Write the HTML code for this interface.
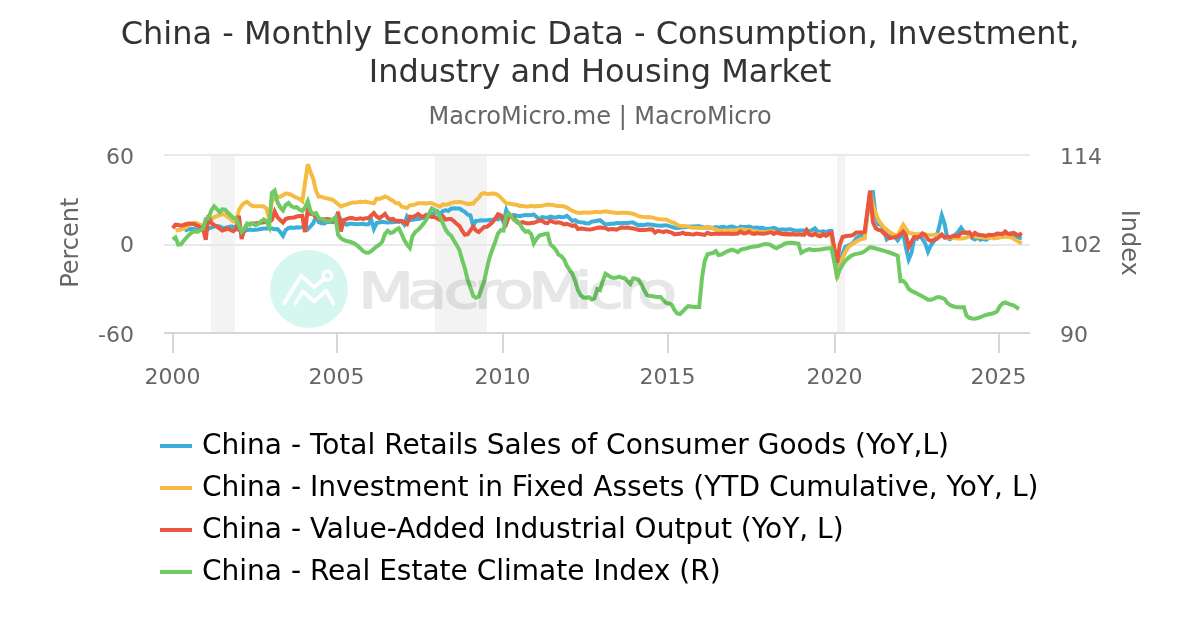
<!DOCTYPE html>
<html lang="en"><head><meta charset="utf-8"><title>China - Monthly Economic Data - Consumption, Investment, Industry and Housing Market</title>
<style>
html,body{margin:0;padding:0;background:#fff;}
body{width:1200px;height:630px;overflow:hidden;}
svg{display:block;font-family:"DejaVu Sans","Liberation Sans",sans-serif;}
</style></head><body>
<svg width="1200" height="630" viewBox="0 0 1200 630">
<rect x="0" y="0" width="1200" height="630" fill="#ffffff"/>

<g fill="#f3f3f3">
<rect x="211" y="155" width="24" height="178"/>
<rect x="435" y="155" width="52" height="178"/>
<rect x="837" y="155" width="8" height="178"/>
</g>
<g stroke="#e7eae9" stroke-width="2" fill="none">
<path d="M164 155 L1030 155"/>
<path d="M164 245 L1030 245"/>
</g>
<g stroke="#d6d6d6" stroke-width="2" fill="none">
<path d="M164 333 L1030 333"/>
<path d="M173 333 L173 353"/>
<path d="M337 333 L337 353"/>
<path d="M503 333 L503 353"/>
<path d="M668 333 L668 353"/>
<path d="M835 333 L835 353"/>
<path d="M999 333 L999 353"/>
</g>
<clipPath id="clip"><rect x="164" y="145" width="866" height="198"/></clipPath>
<g clip-path="url(#clip)" fill="none" stroke-width="4" stroke-linejoin="miter" stroke-miterlimit="4" stroke-linecap="butt">
<path d="M183.7 224.0 L186.5 230.0 L189.2 229.2 L192.0 228.8 L194.8 229.2 L197.5 229.8 L200.3 230.0 L203.0 229.5 L205.8 229.0 L208.5 228.7 L211.3 227.5 L214.1 226.5 L216.8 226.0 L219.6 226.5 L222.3 227.8 L225.1 228.0 L227.8 227.2 L230.6 226.5 L233.3 226.8 L236.1 228.5 L238.9 230.0 L241.6 231.8 L244.4 231.2 L247.1 230.0 L249.9 229.5 L252.6 230.0 L255.4 229.8 L258.2 229.5 L260.9 229.0 L263.7 228.5 L266.4 228.5 L269.2 228.5 L271.9 228.5 L274.7 229.2 L277.4 229.0 L280.2 232.0 L283.0 235.8 L285.7 230.0 L288.5 228.0 L291.2 227.6 L294.0 228.0 L296.8 227.3 L299.5 227.5 L302.3 227.2 L305.0 224.8 L307.8 229.0 L310.5 226.3 L313.3 223.2 L316.1 216.4 L318.8 222.2 L321.6 223.2 L324.3 223.4 L327.1 222.0 L329.8 221.7 L332.6 222.2 L335.4 221.3 L338.1 225.7 L340.9 219.4 L343.6 222.2 L346.4 224.7 L349.1 223.8 L351.9 223.7 L354.6 224.0 L357.4 224.3 L360.2 224.0 L362.9 223.8 L365.7 224.4 L368.4 224.3 L371.2 219.8 L373.9 228.9 L376.7 222.8 L379.4 222.6 L382.2 221.7 L385.0 222.2 L387.7 222.5 L390.5 222.3 L393.2 222.2 L396.0 221.6 L398.8 221.9 L401.5 221.1 L404.3 224.4 L407.0 216.4 L409.8 220.1 L412.5 219.8 L415.3 219.2 L418.1 219.1 L420.8 218.5 L423.6 217.4 L426.3 217.6 L429.1 215.9 L431.8 214.9 L434.6 212.8 L437.3 211.3 L440.1 214.5 L442.9 210.9 L445.6 210.2 L448.4 210.8 L451.1 208.7 L453.9 208.2 L456.6 208.4 L459.4 208.4 L462.1 210.2 L464.9 211.9 L467.7 214.6 L470.4 215.4 L473.2 225.6 L475.9 221.0 L478.7 220.8 L481.4 220.2 L484.2 220.6 L487.0 220.2 L489.7 220.0 L492.5 219.8 L495.2 218.8 L498.0 219.4 L500.8 216.8 L503.5 222.0 L506.3 210.0 L509.0 216.1 L511.8 215.4 L514.5 215.1 L517.3 215.7 L520.0 216.2 L522.8 215.5 L525.6 214.9 L528.3 215.2 L531.1 215.1 L533.8 214.5 L539.3 219.4 L542.1 217.0 L544.9 217.4 L547.6 217.7 L550.4 216.6 L553.1 217.3 L555.9 217.6 L558.6 216.6 L561.4 217.3 L564.1 217.1 L566.9 215.9 L572.4 221.0 L575.2 220.2 L577.9 221.9 L580.7 222.3 L583.5 222.5 L586.2 223.4 L589.0 223.2 L591.7 221.7 L594.5 221.3 L597.2 220.7 L600.0 220.2 L605.5 224.6 L608.3 224.1 L611.0 223.8 L613.8 223.7 L616.5 223.1 L619.3 223.2 L622.0 222.9 L624.8 223.1 L627.6 223.1 L630.3 222.5 L633.1 222.6 L638.6 225.3 L641.3 224.7 L644.1 225.2 L646.9 224.3 L649.6 224.4 L652.4 224.7 L655.1 225.2 L657.9 225.6 L660.6 225.7 L663.4 225.4 L666.1 225.2 L671.7 226.9 L674.4 227.7 L677.2 228.0 L679.9 227.8 L682.7 227.1 L685.5 227.2 L688.2 226.8 L691.0 226.6 L693.7 226.5 L696.5 226.2 L699.2 226.3 L704.7 227.7 L707.5 227.2 L710.3 227.8 L713.0 228.0 L715.8 227.1 L718.5 227.7 L721.3 227.1 L724.0 226.9 L726.8 228.0 L729.5 226.8 L732.3 226.6 L737.8 228.7 L740.6 226.6 L743.3 226.9 L746.1 226.9 L748.9 226.5 L751.6 227.4 L754.4 227.8 L757.1 227.5 L759.9 228.0 L762.6 227.7 L765.4 228.9 L770.9 228.4 L773.7 227.8 L776.4 228.9 L779.2 230.2 L781.9 229.4 L784.7 229.8 L787.4 229.4 L790.2 229.2 L793.0 230.0 L795.7 230.8 L798.5 230.6 L804.0 230.6 L806.7 229.9 L809.5 232.1 L812.2 230.0 L815.0 228.3 L817.8 231.5 L820.5 231.7 L823.3 231.2 L826.0 232.1 L828.8 230.9 L831.5 230.9 L837.1 273.2 L839.8 266.2 L842.6 253.9 L845.3 246.9 L848.1 245.5 L850.9 244.4 L853.6 242.1 L856.4 237.9 L859.1 236.4 L861.9 235.4 L864.6 236.0 L870.1 192.7 L872.9 192.1 L875.7 216.6 L878.4 224.4 L881.2 224.8 L883.9 230.2 L886.7 239.1 L889.4 236.3 L892.2 235.5 L895.0 237.0 L897.7 240.3 L903.2 232.9 L906.0 248.0 L908.7 259.3 L911.5 252.7 L914.2 238.2 L917.0 238.8 L919.8 234.8 L922.5 239.1 L925.3 243.5 L928.0 251.6 L930.8 245.5 L936.3 237.6 L939.1 227.1 L941.8 215.5 L944.6 224.0 L947.3 238.2 L950.1 239.1 L952.9 236.0 L955.6 234.6 L958.4 231.5 L961.1 227.8 L963.9 231.8 L969.4 234.6 L972.1 238.2 L974.9 239.4 L977.7 237.3 L980.4 239.8 L983.2 238.8 L985.9 239.7 L988.7 238.1 L991.4 235.7 L994.2 238.3 L997.0 237.3 L1002.5 236.9 L1005.2 234.1 L1008.0 235.2 L1010.7 233.3 L1013.5 235.7 L1016.2 237.3 L1019.0 237.8 L1021.8 238.3" stroke="#3bafda"/>
<path d="M175.5 230.5 L178.2 230.0 L181.0 229.5 L183.7 228.5 L186.5 227.0 L189.2 225.0 L192.0 223.5 L194.8 222.8 L197.5 223.5 L200.3 225.0 L203.0 225.5 L205.8 224.0 L208.5 222.0 L211.3 219.0 L214.1 217.2 L216.8 216.2 L219.6 215.0 L222.3 214.0 L225.1 214.8 L227.8 216.8 L230.6 219.0 L233.3 221.5 L236.1 221.2 L238.9 210.0 L241.6 205.5 L244.4 203.0 L247.1 201.8 L249.9 204.5 L252.6 206.0 L255.4 206.2 L258.2 206.3 L260.9 206.2 L263.7 206.5 L266.4 208.5 L269.2 219.0 L271.9 200.7 L277.4 196.5 L280.2 196.8 L283.0 195.2 L285.7 193.5 L288.5 193.8 L291.2 194.8 L294.0 196.5 L296.8 197.8 L299.5 199.0 L302.3 201.2 L307.8 164.2 L310.5 171.9 L313.3 179.3 L316.1 191.2 L318.8 196.8 L321.6 196.7 L324.3 197.9 L327.1 198.4 L329.8 199.0 L332.6 199.9 L335.4 201.9 L340.9 206.5 L343.6 205.3 L346.4 204.7 L349.1 203.6 L351.9 202.6 L354.6 202.4 L357.4 202.2 L360.2 201.7 L362.9 201.9 L365.7 201.6 L368.4 202.4 L373.9 203.3 L376.7 198.6 L379.4 198.9 L382.2 197.9 L385.0 196.4 L387.7 197.6 L390.5 199.6 L393.2 201.0 L396.0 203.1 L398.8 203.3 L401.5 206.5 L407.0 208.1 L409.8 205.3 L412.5 205.0 L415.3 204.4 L418.1 203.2 L420.8 203.3 L423.6 203.2 L426.3 203.6 L429.1 202.9 L431.8 203.1 L434.6 204.5 L440.1 206.8 L442.9 204.4 L445.6 204.7 L448.4 204.2 L451.1 203.1 L453.9 202.3 L456.6 202.2 L459.4 201.9 L462.1 202.4 L464.9 203.1 L467.7 204.1 L473.2 203.5 L475.9 200.4 L478.7 197.6 L481.4 194.0 L484.2 193.0 L487.0 194.0 L489.7 193.8 L492.5 193.4 L495.2 193.7 L498.0 195.2 L500.8 197.6 L506.3 203.3 L509.0 203.6 L511.8 204.1 L514.5 204.4 L517.3 205.0 L520.0 205.9 L522.8 206.0 L525.6 206.5 L528.3 206.6 L531.1 205.9 L533.8 206.5 L539.3 205.9 L542.1 205.7 L544.9 205.1 L547.6 204.5 L550.4 204.8 L553.1 205.1 L555.9 205.7 L558.6 205.9 L561.4 205.9 L564.1 206.5 L566.9 207.5 L572.4 210.9 L575.2 211.8 L577.9 212.8 L580.7 213.0 L583.5 212.5 L586.2 212.5 L589.0 212.8 L591.7 212.4 L594.5 212.1 L597.2 212.1 L600.0 212.2 L605.5 211.3 L608.3 211.8 L611.0 212.2 L613.8 212.5 L616.5 213.0 L619.3 213.0 L622.0 212.7 L624.8 212.8 L627.6 213.0 L630.3 213.3 L633.1 213.7 L638.6 216.2 L641.3 216.7 L644.1 217.1 L646.9 217.3 L649.6 217.1 L652.4 217.6 L655.1 218.3 L657.9 218.9 L660.6 219.2 L663.4 219.4 L666.1 219.5 L671.7 222.2 L674.4 222.8 L677.2 225.0 L679.9 225.9 L682.7 225.9 L685.5 226.2 L688.2 226.6 L691.0 227.5 L693.7 227.7 L696.5 227.7 L699.2 228.0 L704.7 227.7 L707.5 226.9 L710.3 227.2 L713.0 228.6 L715.8 229.4 L718.5 230.8 L721.3 230.8 L724.0 230.6 L726.8 230.5 L729.5 230.5 L732.3 230.8 L737.8 229.6 L740.6 229.2 L743.3 229.6 L746.1 230.0 L748.9 230.0 L751.6 230.5 L754.4 231.2 L757.1 231.7 L759.9 232.0 L762.6 232.1 L765.4 232.1 L770.9 231.1 L773.7 231.7 L776.4 232.4 L779.2 233.8 L781.9 233.9 L784.7 234.6 L787.4 234.9 L790.2 234.8 L793.0 234.3 L795.7 234.1 L798.5 234.1 L804.0 233.8 L806.7 233.5 L809.5 233.8 L812.2 234.5 L815.0 234.2 L817.8 234.3 L820.5 234.6 L823.3 234.8 L826.0 235.1 L828.8 235.1 L831.5 234.8 L837.1 279.1 L839.8 266.7 L842.6 258.1 L845.3 252.2 L848.1 247.4 L850.9 245.2 L853.6 243.2 L856.4 241.6 L859.1 240.1 L861.9 238.9 L864.6 238.5 L870.1 190.9 L872.9 204.8 L875.7 213.3 L878.4 220.0 L881.2 224.1 L883.9 227.5 L886.7 229.6 L889.4 232.0 L892.2 233.8 L895.0 235.1 L897.7 235.5 L903.2 224.7 L906.0 229.0 L908.7 232.7 L911.5 233.6 L914.2 233.8 L917.0 234.3 L919.8 234.2 L922.5 234.1 L925.3 234.2 L928.0 234.9 L930.8 235.2 L936.3 234.6 L939.1 235.2 L941.8 235.8 L944.6 236.9 L947.3 237.2 L950.1 237.8 L952.9 238.1 L955.6 238.2 L958.4 238.5 L961.1 238.5 L963.9 238.3 L969.4 236.6 L972.1 236.1 L974.9 236.6 L977.7 236.9 L980.4 237.0 L983.2 237.5 L985.9 237.8 L988.7 237.8 L991.4 237.8 L994.2 237.9 L997.0 238.1 L1002.5 236.7 L1005.2 236.6 L1008.0 236.9 L1010.7 237.3 L1013.5 238.7 L1016.2 240.4 L1019.0 242.1 L1021.8 243.5" stroke="#f6bb42"/>
<path d="M172.7 228.3 L175.5 224.7 L178.2 225.0 L181.0 225.7 L183.7 225.0 L186.5 224.0 L189.2 223.5 L192.0 223.7 L194.8 224.5 L197.5 225.5 L200.3 227.2 L203.0 228.5 L205.8 239.7 L208.5 215.2 L211.3 223.0 L214.1 225.0 L216.8 226.5 L219.6 228.5 L222.3 230.5 L225.1 229.5 L227.8 228.5 L230.6 230.0 L233.3 231.2 L236.1 229.0 L238.9 215.7 L241.6 239.0 L244.4 229.0 L247.1 224.5 L249.9 223.8 L252.6 223.5 L255.4 223.3 L258.2 223.0 L260.9 222.8 L263.7 222.2 L266.4 222.0 L269.2 221.5 L271.9 220.0 L274.7 211.5 L277.4 217.0 L280.2 220.0 L283.0 222.5 L285.7 219.0 L288.5 218.0 L291.2 217.8 L294.0 217.5 L296.8 216.5 L299.5 216.0 L302.3 215.8 L305.0 232.1 L307.8 208.4 L310.5 214.0 L313.3 214.5 L316.1 216.8 L318.8 218.8 L321.6 219.8 L324.3 219.2 L327.1 218.9 L329.8 219.5 L332.6 220.8 L335.4 221.4 L338.1 211.8 L340.9 231.5 L343.6 220.4 L346.4 219.1 L349.1 218.2 L351.9 217.9 L354.6 218.9 L357.4 219.1 L360.2 218.3 L362.9 218.9 L365.7 218.2 L368.4 218.3 L373.9 213.0 L376.7 216.4 L379.4 218.2 L382.2 216.2 L385.0 213.9 L387.7 218.0 L390.5 219.5 L393.2 218.9 L396.0 221.0 L398.8 220.7 L401.5 221.0 L407.0 224.1 L409.8 216.7 L412.5 217.0 L415.3 215.9 L418.1 214.0 L420.8 216.1 L423.6 216.8 L426.3 214.8 L429.1 216.2 L431.8 217.1 L434.6 217.0 L440.1 220.0 L442.9 216.4 L445.6 219.5 L448.4 219.1 L451.1 219.1 L453.9 221.0 L456.6 223.8 L459.4 225.9 L462.1 230.6 L464.9 234.8 L467.7 234.3 L473.2 226.5 L475.9 230.5 L478.7 232.0 L481.4 229.6 L484.2 226.9 L487.0 226.8 L489.7 224.6 L492.5 222.2 L495.2 218.9 L498.0 214.3 L500.8 215.4 L506.3 223.8 L509.0 215.9 L511.8 216.4 L514.5 218.3 L517.3 222.5 L520.0 222.9 L522.8 222.2 L525.6 223.1 L528.3 223.4 L531.1 223.1 L533.8 222.8 L539.3 220.7 L542.1 220.8 L544.9 222.9 L547.6 223.1 L550.4 220.4 L553.1 222.0 L555.9 222.8 L558.6 222.3 L561.4 223.2 L564.1 224.4 L566.9 223.8 L572.4 225.9 L575.2 225.2 L577.9 229.0 L580.7 228.6 L583.5 228.7 L586.2 229.2 L589.0 229.6 L591.7 229.2 L594.5 228.6 L597.2 227.8 L600.0 227.5 L605.5 228.1 L608.3 229.6 L611.0 229.0 L613.8 229.2 L616.5 229.6 L619.3 228.4 L622.0 227.4 L624.8 227.7 L627.6 227.5 L630.3 228.0 L633.1 228.4 L638.6 230.0 L641.3 229.8 L644.1 229.9 L646.9 229.8 L649.6 229.2 L652.4 229.4 L655.1 232.6 L657.9 230.9 L660.6 231.4 L663.4 232.1 L666.1 231.1 L671.7 232.7 L674.4 234.5 L677.2 234.1 L679.9 233.8 L682.7 232.7 L685.5 233.9 L688.2 233.8 L691.0 234.3 L693.7 234.5 L696.5 233.6 L699.2 234.1 L704.7 234.8 L707.5 232.7 L710.3 233.9 L713.0 233.9 L715.8 233.6 L718.5 233.9 L721.3 233.5 L724.0 233.8 L726.8 233.8 L729.5 233.6 L732.3 233.9 L737.8 233.5 L740.6 231.5 L743.3 233.2 L746.1 233.2 L748.9 231.5 L751.6 233.3 L754.4 233.9 L757.1 233.0 L759.9 233.6 L762.6 233.8 L765.4 233.6 L770.9 232.1 L773.7 233.9 L776.4 232.4 L779.2 232.7 L781.9 233.9 L784.7 233.9 L787.4 233.8 L790.2 234.2 L793.0 234.1 L795.7 234.8 L798.5 234.3 L804.0 234.9 L806.7 230.2 L809.5 234.8 L812.2 235.4 L815.0 233.5 L817.8 235.7 L820.5 236.3 L823.3 234.2 L826.0 235.8 L828.8 233.6 L831.5 232.6 L837.1 262.8 L839.8 244.4 L842.6 237.0 L845.3 236.3 L848.1 235.7 L850.9 235.7 L853.6 234.5 L856.4 232.6 L859.1 232.6 L861.9 232.4 L864.6 232.0 L870.1 190.7 L872.9 221.9 L875.7 228.3 L878.4 229.8 L881.2 230.5 L883.9 233.3 L886.7 234.9 L889.4 238.2 L892.2 237.6 L895.0 237.2 L897.7 236.4 L903.2 231.7 L906.0 235.4 L908.7 247.1 L911.5 241.8 L914.2 237.0 L917.0 237.2 L919.8 236.6 L922.5 233.5 L925.3 235.4 L928.0 239.5 L930.8 240.9 L936.3 239.2 L939.1 237.0 L941.8 234.5 L944.6 237.6 L947.3 236.3 L950.1 237.3 L952.9 236.1 L955.6 236.1 L958.4 236.0 L961.1 233.0 L963.9 232.7 L969.4 232.4 L972.1 236.1 L974.9 232.9 L977.7 234.5 L980.4 234.9 L983.2 235.2 L985.9 236.1 L988.7 234.8 L991.4 234.9 L994.2 234.8 L997.0 233.6 L1002.5 234.1 L1005.2 231.4 L1008.0 233.8 L1010.7 234.2 L1013.5 232.7 L1016.2 234.3 L1019.0 235.1 L1021.8 233.2" stroke="#e9573f"/>
<path d="M172.7 239.5 L175.5 237.4 L178.2 244.6 L181.0 244.4 L183.7 240.8 L186.5 237.5 L189.2 234.7 L192.0 232.5 L194.8 231.2 L197.5 231.8 L200.3 230.2 L203.0 228.5 L205.8 219.0 L208.5 218.3 L211.3 210.5 L214.1 206.3 L216.8 209.0 L219.6 212.2 L222.3 209.3 L225.1 209.6 L227.8 212.5 L230.6 215.2 L233.3 218.0 L236.1 218.6 L238.9 225.2 L241.6 231.8 L244.4 228.5 L247.1 223.5 L249.9 224.7 L252.6 223.5 L255.4 225.2 L258.2 224.0 L260.9 221.5 L263.7 219.4 L266.4 221.2 L269.2 226.8 L271.9 192.8 L274.7 190.6 L277.4 202.0 L280.2 207.0 L283.0 210.4 L285.7 205.0 L288.5 203.0 L291.2 206.0 L294.0 207.5 L296.8 207.2 L299.5 209.5 L302.3 211.0 L305.0 207.5 L307.8 201.2 L310.5 211.0 L313.3 214.0 L316.1 213.2 L318.8 218.5 L321.6 219.0 L324.3 220.0 L327.1 221.2 L329.8 221.0 L332.6 219.5 L335.4 217.2 L338.1 234.8 L340.9 238.3 L343.6 240.0 L346.4 241.0 L349.1 241.5 L351.9 242.5 L354.6 243.5 L357.4 245.5 L360.2 248.2 L362.9 251.0 L365.7 252.5 L368.4 252.8 L371.2 251.2 L373.9 248.7 L376.7 246.5 L379.4 244.8 L382.2 241.8 L385.0 234.0 L387.7 230.8 L390.5 233.0 L393.2 232.2 L396.0 229.7 L398.8 228.3 L401.5 233.7 L404.3 240.0 L407.0 244.5 L409.8 247.8 L412.5 236.0 L415.3 232.0 L418.1 229.8 L420.8 227.0 L423.6 223.5 L426.3 220.0 L429.1 213.5 L431.8 208.5 L434.6 210.0 L437.3 212.5 L440.1 217.0 L442.9 223.5 L445.6 229.5 L448.4 233.5 L451.1 235.5 L453.9 240.5 L456.6 245.0 L459.4 250.0 L462.1 259.5 L464.9 268.5 L467.7 280.0 L470.4 287.5 L473.2 296.0 L475.9 297.8 L478.7 296.5 L481.4 289.0 L484.2 281.0 L487.0 268.0 L489.7 257.0 L492.5 249.0 L495.2 242.0 L498.0 233.5 L500.8 230.2 L503.5 230.5 L506.3 215.5 L509.0 213.5 L511.8 217.2 L514.5 220.5 L517.3 221.0 L520.0 224.5 L522.8 229.0 L525.6 231.8 L528.3 231.2 L531.1 234.0 L533.8 243.4 L536.6 239.0 L539.3 235.5 L542.1 234.8 L544.9 234.0 L547.6 233.7 L550.4 244.5 L553.1 246.8 L555.9 250.0 L558.6 254.8 L561.4 256.2 L564.1 259.5 L566.9 266.0 L569.7 270.0 L572.4 274.0 L575.2 281.0 L577.9 290.0 L580.7 295.5 L583.5 297.5 L586.2 297.8 L589.0 297.2 L591.7 299.5 L594.5 298.3 L597.2 289.2 L600.0 290.2 L602.8 281.0 L605.5 273.7 L608.3 275.5 L611.0 277.2 L613.8 278.0 L616.5 277.6 L619.3 276.6 L622.0 277.8 L624.8 278.2 L627.6 281.2 L630.3 284.0 L633.1 278.4 L635.8 278.7 L638.6 279.7 L641.3 284.2 L644.1 290.0 L646.9 295.0 L649.6 295.8 L652.4 296.2 L655.1 296.8 L657.9 297.0 L660.6 297.0 L663.4 300.2 L666.1 303.0 L668.9 303.5 L671.7 304.7 L674.4 310.0 L677.2 313.5 L679.9 314.0 L682.7 311.5 L685.5 308.5 L688.2 306.2 L691.0 306.6 L693.7 307.0 L696.5 307.0 L699.2 307.0 L702.0 278.0 L704.7 261.0 L707.5 254.2 L710.3 253.5 L713.0 253.0 L715.8 251.1 L718.5 255.0 L721.3 254.5 L724.0 253.0 L726.8 251.5 L729.5 250.5 L732.3 249.7 L735.1 250.8 L737.8 252.2 L740.6 249.7 L743.3 249.0 L746.1 248.5 L748.9 247.6 L751.6 246.9 L754.4 246.5 L757.1 246.2 L759.9 245.5 L762.6 244.6 L765.4 244.0 L768.1 244.2 L770.9 245.0 L773.7 247.0 L776.4 248.2 L779.2 246.6 L781.9 245.5 L784.7 243.7 L787.4 243.0 L790.2 242.8 L793.0 243.0 L795.7 243.2 L798.5 243.7 L801.2 252.8 L804.0 251.2 L806.7 250.0 L809.5 249.2 L812.2 250.0 L815.0 250.0 L817.8 249.7 L820.5 249.5 L823.3 249.0 L826.0 248.5 L828.8 248.2 L831.5 248.2 L837.1 276.0 L839.8 269.5 L842.6 264.5 L845.3 260.8 L848.1 258.0 L850.9 256.0 L853.6 254.7 L856.4 253.9 L859.1 253.4 L861.9 252.8 L864.6 251.2 L867.4 249.0 L870.1 247.2 L872.9 247.8 L875.7 248.5 L878.4 249.3 L881.2 250.0 L883.9 250.8 L886.7 251.7 L889.4 252.5 L892.2 253.5 L895.0 254.5 L897.7 255.8 L900.5 281.2 L903.2 280.8 L906.0 284.0 L908.7 289.0 L911.5 291.0 L914.2 292.2 L917.0 293.5 L919.8 295.0 L922.5 296.5 L925.3 298.0 L928.0 299.7 L930.8 299.8 L933.5 299.0 L936.3 297.5 L939.1 297.0 L941.8 297.8 L944.6 299.0 L947.3 302.8 L950.1 305.0 L952.9 306.3 L955.6 307.0 L958.4 307.2 L961.1 307.2 L963.9 307.3 L966.6 315.8 L969.4 317.8 L972.1 318.5 L974.9 318.8 L977.7 318.0 L980.4 317.1 L983.2 316.0 L985.9 315.0 L988.7 314.3 L991.4 313.7 L994.2 312.8 L997.0 311.5 L999.7 306.5 L1002.5 303.5 L1005.2 302.5 L1008.0 303.6 L1010.7 304.6 L1013.5 305.4 L1016.2 307.2 L1019.0 309.0" stroke="#70ca63"/>
</g>
<g id="watermark">
<circle cx="309" cy="289" r="39" fill="#2dd7b4" fill-opacity="0.2"/>
<path d="M284.2 303.2 L301.3 275.6 L314 287.4 L323.6 279.2" fill="none" stroke="#ffffff" stroke-width="3.8" stroke-linecap="round" stroke-linejoin="round"/>
<path d="M295.4 303.2 L303 291.4 L314.2 301.4 L326.2 290.6 L333.4 303.6" fill="none" stroke="#ffffff" stroke-width="3.8" stroke-linecap="round" stroke-linejoin="round"/>
<circle cx="327.4" cy="275.7" r="4.4" fill="none" stroke="#ffffff" stroke-width="3.4"/>
<g opacity="0.105" transform="translate(0,307.8) scale(1.29,1)"><text x="277.71 315.89 343.99 367.44 383.18 409.42 445.35 456.05 479.38 494.15" y="0" font-family="'DejaVu Sans','Liberation Sans',sans-serif" font-size="50" fill="#1d2433" stroke="#1d2433" stroke-width="1.8" stroke-linejoin="round">MacroMicro</text></g>
</g>
<text x="600" y="44" text-anchor="middle" font-size="32" fill="#333333"><tspan x="600">China - Monthly Economic Data - Consumption, Investment,</tspan><tspan x="600" dy="38">Industry and Housing Market</tspan></text>
<text x="600" y="124" text-anchor="middle" font-size="24" fill="#666666">MacroMicro.me | MacroMicro</text>
<g font-size="22" fill="#666666" text-anchor="end">
<text x="134" y="164">60</text>
<text x="134" y="252">0</text>
<text x="134" y="342">-60</text>
</g>
<g font-size="22" fill="#666666" text-anchor="start">
<text x="1060" y="164">114</text>
<text x="1060" y="252">102</text>
<text x="1060" y="342">90</text>
</g>
<g font-size="22" fill="#666666" text-anchor="middle">
<text x="172.5" y="384">2000</text>
<text x="336.5" y="384">2005</text>
<text x="502.5" y="384">2010</text>
<text x="667.5" y="384">2015</text>
<text x="834.5" y="384">2020</text>
<text x="998.5" y="384">2025</text>
</g>
<text x="78" y="242.7" transform="rotate(-90 78 242.7)" text-anchor="middle" font-size="24" fill="#666666">Percent</text>
<text x="1122" y="242.8" transform="rotate(90 1122 242.8)" text-anchor="middle" font-size="24" fill="#666666">Index</text>
<g font-size="28" fill="#000000">
<path d="M160 446 L192 446" stroke="#3bafda" stroke-width="4" fill="none"/>
<text x="202" y="454">China - Total Retails Sales of Consumer Goods (YoY,L)</text>
<path d="M160 488 L192 488" stroke="#f6bb42" stroke-width="4" fill="none"/>
<text x="202" y="496">China - Investment in Fixed Assets (YTD Cumulative, YoY, L)</text>
<path d="M160 530 L192 530" stroke="#e9573f" stroke-width="4" fill="none"/>
<text x="202" y="538">China - Value-Added Industrial Output (YoY, L)</text>
<path d="M160 572 L192 572" stroke="#70ca63" stroke-width="4" fill="none"/>
<text x="202" y="580">China - Real Estate Climate Index (R)</text>
</g>
</svg></body></html>
